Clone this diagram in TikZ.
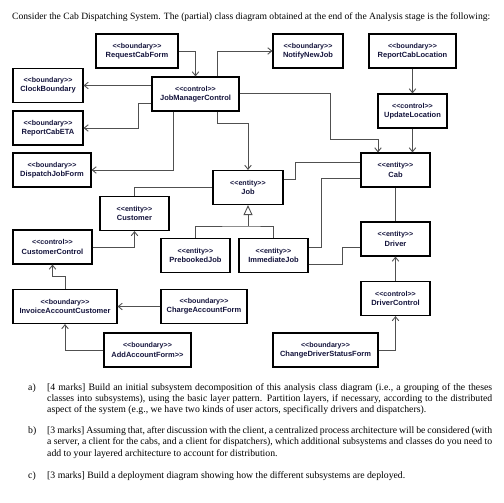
\documentclass[tikz,border=0pt]{standalone}
\usepackage{fontspec}
\setmainfont{Liberation Serif}
\newfontfamily\arialfont{Liberation Sans}
\usetikzlibrary{arrows.meta,calc}
\definecolor{txtc}{RGB}{20,20,60}
\definecolor{linec}{RGB}{80,80,80}
\tikzset{
  cls/.style={draw=black, line width=1.1pt, fill=white, minimum height=34pt, inner sep=0pt, align=center,
     font=\arialfont\bfseries\fontsize{7.5}{9.3}\selectfont, text=txtc},
  conn/.style={draw=linec, line width=0.9pt},
  arr/.style={conn, -{Straight Barb[length=4pt,width=6.5pt,line width=0.9pt]}},
  gen/.style={conn, -{Triangle[open,length=10pt,width=9pt,line width=0.9pt]}},
  para/.style={anchor=base west, inner sep=0pt, text width=445pt, align=justify,
     font=\fontsize{9.75}{11.3}\selectfont},
  lbl/.style={anchor=base west, inner sep=0pt, font=\fontsize{9.75}{11.3}\selectfont}
}
\newcommand{\st}[2]{{\fontsize{7.1}{9.3}\selectfont <<#1>>}\\#2}
\begin{document}
\begin{tikzpicture}[x=1pt,y=-1pt]
\useasboundingbox (0,0) rectangle (504,503);
\node[anchor=base west, inner sep=0pt, font=\fontsize{9.6}{10}\selectfont] (hdr) at (12,20) {Consider the Cab Dispatching System. The (partial) class diagram obtained at the end of the Analysis stage is the following:};

\node[cls, minimum width=82pt] (RCF) at (137,51) {\st{boundary}{RequestCabForm}};
\node[cls, minimum width=70pt] (NNJ) at (308,51) {\st{boundary}{NotifyNewJob}};
\node[cls, minimum width=87pt] (RCL) at (412.5,51) {\st{boundary}{ReportCabLocation}};
\node[cls, minimum width=70pt] (CB) at (48,85.5) {\st{boundary}{ClockBoundary}};
\node[cls, minimum width=87pt] (JMC) at (195.5,94) {\st{control}{JobManagerControl}};
\node[cls, minimum width=70pt] (RCE) at (48,128) {\st{boundary}{ReportCabETA}};
\node[cls, minimum width=69pt] (UL) at (412.5,111) {\st{control}{UpdateLocation}};
\node[cls, minimum width=78pt] (DJF) at (52,170) {\st{boundary}{DispatchJobForm}};
\node[cls, minimum width=70pt] (Job) at (248,187.5) {\st{entity}{Job}};
\node[cls, minimum width=69pt] (Cab) at (395.5,170) {\st{entity}{Cab}};
\node[cls, minimum width=69pt] (Cust) at (134.5,213.5) {\st{entity}{Customer}};
\node[cls, minimum width=79pt] (CC) at (52.5,247) {\st{control}{CustomerControl}};
\node[cls, minimum width=69pt] (PJ) at (195.5,255.5) {\st{entity}{PrebookedJob}};
\node[cls, minimum width=69pt] (IJ) at (273.5,255.5) {\st{entity}{ImmediateJob}};
\node[cls, minimum width=69pt] (Drv) at (395.5,239) {\st{entity}{Driver}};
\node[cls, minimum width=69pt] (DC) at (395.5,298.5) {\st{control}{DriverControl}};
\node[cls, minimum width=104pt] (IAC) at (65,306.5) {\st{boundary}{InvoiceAccountCustomer}};
\node[cls, minimum width=86pt] (CAF) at (204,306.5) {\st{boundary}{ChargeAccountForm}};
\node[cls, minimum width=87pt] (AAF) at (147.5,350) {\st{boundary}{AddAccountForm>>}};
\node[cls, minimum width=105pt] (CDSF) at (325.5,350) {\st{boundary}{ChangeDriverStatusForm}};

% connectors
\draw[arr] (RCF.east) -| (JMC.north);
\draw[arr] (217,0 |- JMC.north) |- (NNJ.west);
\draw[arr] (JMC.west |- CB.east) -- (CB.east);
\draw[arr] (JMC.west |- 0,103) -- (138,103) |- (RCE.east);
\draw[arr] (173,0 |- JMC.south) |- (DJF.east);
\draw[arr] (217,0 |- JMC.south) -- (217,123) -| (Job.north);
\draw[arr] (JMC.east |- 0,93) -- (330,93) -- (330,139) -- (378,139) -- (378,0 |- Cab.north);
\draw[arr] (RCL.south) -- (UL.north);
\draw[arr] (UL.south) -- (UL.south |- Cab.north);
\draw[conn] (Job.east |- 0,179) -- (295,179) -- (295,162) -- (Cab.west |- 0,162);
\draw[conn] (IJ.east |- 0,247) -- (321,247) -- (321,178) -- (Cab.west |- 0,178);
\draw[conn] (IJ.east |- 0,264) -- (342,264) -- (342,247) -- (Drv.west |- 0,247);
\draw[conn] (Cab.south) -- (Drv.north);
\coordinate (gpt) at (Job.south |- 0,226);
\draw[conn] (PJ.north) |- (gpt) -| (IJ.north);
\draw[gen] (gpt) -- (Job.south);
\draw[conn] (Cust.north) |- (Job.west);
\draw[arr] (CC.east) -| (Cust.south);
\draw[arr] (IAC.north) -- (IAC.north |- 0,276) -| (CC.south);
\draw[arr] (CAF.west) -- (IAC.east);
\draw[arr] (AAF.west) -| (IAC.south);
\draw[arr] (CDSF.east) -| (DC.south);
\draw[arr] (DC.north) -- (Drv.south);

% questions
\node[lbl] (la) at (28,390) {a)};
\node[para] (pa) at (47,390) {[4 marks] Build an initial subsystem decomposition of this analysis class diagram (i.e., a grouping of the theses\linebreak classes into subsystems), using the basic layer pattern. Partition layers, if necessary, according to the distributed\linebreak aspect of the system (e.g., we have two kinds of user actors, specifically drivers and dispatchers).};
\node[lbl] (lb) at (28,433.5) {b)};
\node[para] (pb) at (47,433.5) {[3 marks] Assuming that, after discussion with the client, a centralized process architecture will be considered (with\linebreak a server, a client for the cabs, and a client for dispatchers), which additional subsystems and classes do you need to\linebreak add to your layered architecture to account for distribution.};
\node[lbl] (lc) at (28,478) {c)};
\node[para] (pc) at (47,478) {[3 marks] Build a deployment diagram showing how the different subsystems are deployed.};
\end{tikzpicture}
\end{document}
